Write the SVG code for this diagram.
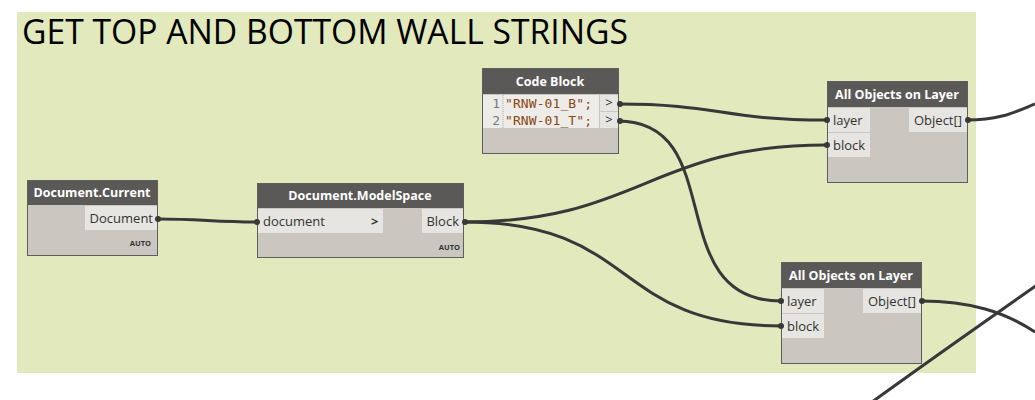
<svg xmlns="http://www.w3.org/2000/svg" width="1035" height="400" viewBox="0 0 1035 400">
<style>
.hdr{fill:#5a5957}
.body{fill:#cbc7c0;stroke:#5e5e5e;stroke-width:1}
.port{fill:#e6e5e1}
.ht{font-family:"Open Sans","Noto Sans",sans-serif;font-size:12.5px;font-weight:bold;fill:#ffffff;text-anchor:middle}
.pt{font-family:"Open Sans","Noto Sans",sans-serif;font-size:13px;fill:#333333}
.auto{font-family:"Open Sans","Noto Sans",sans-serif;font-size:7.5px;font-weight:bold;fill:#333333;text-anchor:end}
.code{font-family:"DejaVu Sans Mono","Liberation Mono",monospace;font-size:13px;fill:#8b4513}
.ln{font-family:"DejaVu Sans Mono","Liberation Mono",monospace;font-size:13px;fill:#7a7a7a;text-anchor:end}
.wire{fill:none;stroke:#383838;stroke-width:3}
.dot{fill:#383838}
</style>
<rect x="0" y="0" width="1035" height="400" fill="#ffffff"/>
<rect x="17" y="12" width="959" height="361" fill="#e1e9bd"/>
<text x="22" y="44" font-family="'Open Sans','Noto Sans',sans-serif" font-size="34" fill="#000000" textLength="606" lengthAdjust="spacingAndGlyphs">GET TOP AND BOTTOM WALL STRINGS</text>

<g id="connectors">
<path class="wire" d="M158,219 C200,219 215,222 257,222"/>
<path class="wire" d="M464,222 C640,222 650,145 827,145"/>
<path class="wire" d="M464,222 C640,222 610,326 781,326"/>
<path class="wire" d="M618,104 C720,104 720,120 827,120"/>
<path class="wire" d="M618,121 C730,121 660,301 781,301"/>
<path class="wire" d="M967,120 C1000,120 1015,112 1035,104"/>
<path class="wire" d="M921,301 C970,301 1005,312 1035,332"/>
<path class="wire" d="M872,402 C930,360 990,318 1037,285"/>
</g>

<g id="doc-current">
<rect class="body" x="27.5" y="180.5" width="130" height="75"/>
<rect class="hdr" x="28" y="181" width="129" height="24"/>
<text class="ht" x="92" y="197">Document.Current</text>
<rect class="port" x="85" y="206" width="72" height="24"/>
<text class="pt" x="153" y="223" text-anchor="end">Document</text>
<text class="auto" x="151" y="246">AUTO</text>
<circle class="dot" cx="158" cy="219" r="3"/>
</g>

<g id="doc-modelspace">
<rect class="body" x="257.5" y="183.5" width="206" height="74"/>
<rect class="hdr" x="258" y="184" width="205" height="24"/>
<text class="ht" x="360" y="200">Document.ModelSpace</text>
<rect class="port" x="258" y="209" width="125" height="24"/>
<text class="pt" x="263" y="226">document</text>
<text class="pt" x="371" y="226" font-weight="bold">&gt;</text>
<rect class="port" x="422" y="209" width="41" height="24"/>
<text class="pt" x="459" y="226" text-anchor="end">Block</text>
<text class="auto" x="460" y="250">AUTO</text>
<circle class="dot" cx="257" cy="222" r="3"/>
<circle class="dot" cx="465" cy="222" r="3"/>
</g>

<g id="code-block">
<rect class="body" x="482.5" y="68.5" width="136" height="85"/>
<rect class="hdr" x="483" y="69" width="135" height="25"/>
<text class="ht" x="550" y="86">Code Block</text>
<rect x="483" y="95" width="116" height="33" fill="#edece8"/>
<line x1="503" y1="95" x2="503" y2="128" stroke="#aaaaaa" stroke-width="1" stroke-dasharray="1,1"/>
<text class="ln" x="500" y="108">1</text>
<text class="ln" x="500" y="125">2</text>
<text class="code" x="505" y="108" textLength="87">"RNW-01_B";</text>
<text class="code" x="505" y="125" textLength="87">"RNW-01_T";</text>
<rect class="port" x="600" y="95" width="18" height="16"/>
<rect class="port" x="600" y="112" width="18" height="16"/>
<text class="pt" x="609" y="107" text-anchor="middle" font-size="11">&gt;</text>
<text class="pt" x="609" y="124" text-anchor="middle" font-size="11">&gt;</text>
<circle class="dot" cx="620" cy="104" r="3"/>
<circle class="dot" cx="620" cy="121" r="3"/>
</g>

<g id="aol-1">
<rect class="body" x="827.5" y="81.5" width="140" height="101"/>
<rect class="hdr" x="828" y="82" width="139" height="25"/>
<text class="ht" x="897" y="99">All Objects on Layer</text>
<rect class="port" x="828" y="108" width="42" height="24"/>
<text class="pt" x="833" y="125">layer</text>
<rect class="port" x="828" y="133" width="42" height="24"/>
<text class="pt" x="833" y="150">block</text>
<rect class="port" x="909" y="108" width="58" height="24"/>
<text class="pt" x="962" y="125" text-anchor="end">Object[]</text>
<circle class="dot" cx="827" cy="120" r="3"/>
<circle class="dot" cx="827" cy="145" r="3"/>
<circle class="dot" cx="968" cy="120" r="3"/>
</g>

<g id="aol-2">
<rect class="body" x="781.5" y="262.5" width="140" height="101"/>
<rect class="hdr" x="782" y="263" width="139" height="25"/>
<text class="ht" x="851" y="280">All Objects on Layer</text>
<rect class="port" x="782" y="289" width="42" height="24"/>
<text class="pt" x="787" y="306">layer</text>
<rect class="port" x="782" y="314" width="42" height="24"/>
<text class="pt" x="787" y="331">block</text>
<rect class="port" x="863" y="289" width="58" height="24"/>
<text class="pt" x="916" y="306" text-anchor="end">Object[]</text>
<circle class="dot" cx="781" cy="301" r="3"/>
<circle class="dot" cx="781" cy="326" r="3"/>
<circle class="dot" cx="922" cy="301" r="3"/>
</g>
</svg>
